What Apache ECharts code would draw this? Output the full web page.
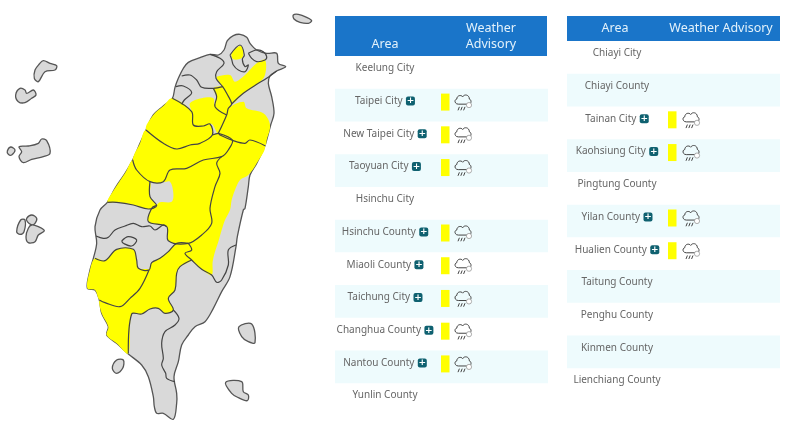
<!DOCTYPE html>
<html>
<head>
<meta charset="utf-8">
<style>html,body{margin:0;padding:0;background:#fff}#chart{width:800px;height:438px}</style>
<script src="https://cdn.jsdelivr.net/npm/echarts@6/dist/echarts.min.js"></script>
</head>
<body>
<div id="chart"></div>
<script>
// table contents
var areasLeft = ['Keelung City', 'Taipei City', 'New Taipei City', 'Taoyuan City', 'Hsinchu City', 'Hsinchu County', 'Miaoli County', 'Taichung City', 'Changhua County', 'Nantou County', 'Yunlin County'];
var advisoryLeft = [0, 1, 1, 1, 0, 1, 1, 1, 1, 1, 0];
var areasRight = ['Chiayi City', 'Chiayi County', 'Tainan City', 'Kaohsiung City', 'Pingtung County', 'Yilan County', 'Hualien County', 'Taitung County', 'Penghu County', 'Kinmen County', 'Lienchiang County'];
var advisoryRight = [0, 0, 1, 1, 0, 1, 1, 0, 0, 0, 0];

// map outlines (units are 1/3 px)
var land = [
  [[322,607],[345,565],[375,520],[398,480],[420,430],[438,390],[460,345],[490,318],[517,295],[525,262],[535,235],[550,205],[565,187],[600,173],[630,163],[655,165],[672,150],[682,122],[700,107],[720,103],[740,112],[750,130],[770,150],[800,160],[830,160],[835,190],[857,200],[830,213],[810,228],[805,250],[815,290],[822,340],[812,375],[800,420],[795,437],[770,490],[750,525],[745,560],[735,625],[730,630],[712,710],[708,740],[690,830],[665,875],[640,925],[615,965],[585,980],[565,1005],[545,1035],[535,1085],[522,1130],[530,1180],[530,1210],[520,1258],[490,1240],[470,1240],[463,1220],[460,1190],[445,1130],[425,1095],[385,1062],[350,1030],[320,1005],[325,980],[305,940],[298,900],[285,870],[262,865],[270,810],[280,775],[290,730],[285,680],[300,630]],
  [[880,45],[895,43],[920,52],[935,62],[925,70],[900,67],[882,57]],
  [[105,210],[118,192],[130,182],[150,190],[170,197],[165,210],[135,215],[115,245],[103,235]],
  [[47,285],[60,265],[75,270],[80,280],[100,270],[108,285],[95,295],[75,308],[55,305]],
  [[57,440],[85,438],[115,430],[125,417],[140,422],[150,460],[130,470],[95,478],[70,488],[57,470],[65,455]],
  [[22,453],[32,441],[45,450],[35,465],[25,463]],
  [[50,695],[62,660],[75,660],[72,695],[60,703]],
  [[80,655],[95,645],[110,655],[105,670],[95,675],[82,665]],
  [[85,685],[95,675],[115,680],[133,692],[115,705],[105,725],[85,728],[78,710]],
  [[337,1105],[350,1080],[370,1080],[368,1105],[350,1120]],
  [[717,980],[755,972],[765,1028],[745,1025],[725,1010]],
  [[677,1147],[725,1145],[730,1175],[745,1185],[742,1202],[715,1193],[695,1180]]
];
var advisoryZones = [
  [[695,160],[722,137],[730,160],[725,175],[700,178]],
  [[650,230],[690,225],[705,245],[735,225],[770,190],[795,180],[795,225],[775,250],[730,280],[695,312],[680,280],[668,260],[650,235]],
  [[640,265],[668,260],[680,280],[695,312],[685,325],[680,345],[665,335],[645,320],[650,290]],
  [[570,310],[605,295],[640,295],[645,320],[680,345],[680,350],[655,400],[635,372],[610,378],[580,375],[575,335]],
  [[685,325],[730,305],[740,325],[790,340],[810,375],[800,420],[795,437],[750,420],[735,430],[700,422],[660,405],[660,385],[680,350]],
  [[517,295],[575,335],[580,375],[610,378],[630,372],[637,405],[600,430],[570,435],[530,447],[490,430],[438,390],[460,345],[490,318]],
  [[438,390],[490,430],[530,447],[570,435],[600,430],[637,405],[655,400],[697,420],[685,450],[665,470],[610,480],[560,505],[510,510],[490,545],[450,545],[410,510],[398,480],[420,430]],
  [[398,480],[410,510],[450,545],[450,590],[470,617],[445,627],[400,615],[350,607],[322,607],[345,565],[375,520]],
  [[510,510],[560,505],[610,480],[665,470],[650,490],[660,520],[645,560],[630,625],[635,670],[605,705],[565,730],[505,722],[500,680],[445,665],[455,625],[468,617],[480,607],[515,605],[520,580],[510,545],[490,545]],
  [[697,420],[735,430],[750,420],[795,437],[770,490],[745,525],[720,540],[705,570],[695,600],[690,630],[675,660],[665,690],[655,725],[645,755],[638,785],[635,825],[605,808],[575,780],[555,760],[575,750],[565,730],[605,705],[635,670],[630,625],[645,560],[660,520],[650,490],[665,470],[685,450]],
  [[285,775],[270,810],[262,865],[285,870],[298,900],[315,908],[360,920],[390,895],[420,865],[447,810],[415,805],[410,780],[400,748],[350,748],[315,782]],
  [[298,900],[315,908],[360,920],[390,895],[420,865],[447,810],[455,788],[480,775],[505,755],[530,730],[565,730],[575,750],[555,760],[575,780],[540,800],[530,820],[525,870],[505,895],[520,930],[495,940],[475,925],[450,927],[425,942],[395,942],[385,1060],[350,1030],[320,1005],[325,980],[305,940]]
];
var borders = [
  [[690,165],[720,135],[733,165],[727,178],[735,200],[745,195],[735,215],[715,210],[700,195],[695,178],[690,165]],
  [[745,160],[770,150],[790,155],[800,170],[795,180],[770,185],[755,175],[745,160]],
  [[630,163],[660,175],[672,190],[650,215],[648,235],[668,260],[680,280],[695,312],[685,325],[680,345],[655,400]],
  [[545,228],[570,225],[590,240],[605,262],[640,265],[668,260]],
  [[640,265],[650,290],[645,320],[680,345]],
  [[528,260],[550,258],[575,278],[553,300],[545,313]],
  [[517,295],[575,335],[580,375],[610,378],[630,372],[637,405],[600,430],[570,435],[530,447],[490,430],[438,390]],
  [[695,312],[730,280],[775,250],[800,235],[830,213]],
  [[637,405],[655,400],[660,405],[700,422],[735,430],[750,420],[795,437]],
  [[655,400],[697,420],[685,450],[665,470],[610,480],[560,505],[510,510],[490,545],[450,545],[410,510],[398,480]],
  [[450,545],[450,590],[470,617],[445,627],[400,615],[350,607],[322,607]],
  [[665,470],[650,490],[660,520],[645,560],[630,625],[635,670],[605,705],[565,730],[505,722],[500,680],[445,665],[455,625],[468,617]],
  [[288,708],[310,715],[325,712],[345,690],[375,678],[400,670],[425,680],[450,678],[465,690],[490,675],[500,680]],
  [[365,723],[385,710],[410,720],[395,738],[370,730],[365,723]],
  [[285,775],[315,782],[350,748],[400,748],[410,780],[415,805],[447,810],[455,788],[480,775],[505,755],[530,730],[565,730]],
  [[447,810],[420,865],[390,895],[360,920],[315,908],[298,900]],
  [[565,730],[575,750],[555,760],[575,780],[605,808],[635,825],[650,847],[665,840],[685,795],[685,750],[708,735]],
  [[575,780],[540,800],[530,820],[525,870],[505,895],[520,930],[495,940],[475,925],[450,927],[425,942],[395,942],[385,1060]],
  [[520,930],[537,955],[525,975],[495,995],[485,1030],[490,1075],[485,1095],[497,1120],[500,1135],[525,1145]]
];

var CLOUD = 'M6 15C1 15 0 9 4 8C4 3 10 2 12 5C14 1 21 2 21 8C24 9 24 14 21 15C16 15 11 15 6 15';
var RAIN = 'M8 17L6 22M12 17L10 22M16 17L14 22';
var SMOOTH = 0.35;

function shapeSeries(list, build) {
  return {
    type: 'custom',
    xAxisIndex: 0,
    yAxisIndex: 0,
    silent: true,
    data: list.map(function(d, i) { return [i]; }),
    renderItem: function(params, api) {
      var pts = list[api.value(0)].map(function(p) { return api.coord(p); });
      return build(pts);
    }
  };
}

function tableSeries(index, names, flags, barX, iconX) {
  return {
    type: 'custom',
    xAxisIndex: index,
    yAxisIndex: index,
    silent: true,
    data: names.map(function(n, i) { return [0, n, flags[i], i]; }),
    renderItem: function(params, api) {
      var i = api.value(3);
      var c = api.coord([0, names[i]]);
      var h = api.size([0, 1])[1];
      var x = c[0], y = c[1];
      var w = 213;
      var kids = [];
      if (i % 2 === 1) {
        kids.push({ type: 'rect', shape: { x: x, y: y - h / 2, width: w, height: h }, style: { fill: '#eefbfd' } });
      }
      var on = flags[i] === 1;
      kids.push({
        type: 'text',
        style: {
          x: x + 50, y: y - 4, align: 'center', verticalAlign: 'middle',
          text: on ? '{a|' + names[i] + '} {p|+}' : '{a|' + names[i] + '}',
          rich: {
            a: { fontFamily: 'Noto Sans', fontSize: 10, fill: '#666' },
            p: { fontFamily: 'DejaVu Sans', fontSize: 9, fontWeight: 'bold', fill: '#fff', backgroundColor: '#0f6170', borderRadius: 2, width: 9, height: 9, lineHeight: 9, align: 'center' }
          }
        }
      });
      if (on) {
        kids.push({ type: 'rect', shape: { x: x + barX, y: y - 11.5, width: 8.5, height: 17 }, style: { fill: '#ffff00' } });
        kids.push({ type: 'path', shape: { pathData: CLOUD, x: x + iconX, y: y - 11, width: 16, height: 11 }, style: { fill: 'none', stroke: '#444', lineWidth: 1 } });
        kids.push({ type: 'path', shape: { pathData: RAIN, x: x + iconX + 3, y: y + 1, width: 7, height: 5 }, style: { fill: 'none', stroke: '#444', lineWidth: 1 } });
        kids.push({ type: 'circle', shape: { cx: x + iconX + 14, cy: y, r: 2.6 }, style: { fill: '#fff', stroke: '#999', lineWidth: 0.8 } });
      }
      return { type: 'group', children: kids };
    }
  };
}

function headerCell(text, cx, cy) {
  return {
    type: 'text', x: cx, y: cy,
    style: { text: text, align: 'center', verticalAlign: 'middle', fill: '#e3f2fb', font: '12.5px "Noto Sans"' }
  };
}

var chart = echarts.init(document.getElementById('chart'));
chart.setOption({
  animation: false,
  backgroundColor: '#fff',
  grid: [
    { left: 0, top: 0, width: 800, height: 438 },
    { left: 335, top: 56, width: 212, height: 360 },
    { left: 567, top: 41, width: 213, height: 360 }
  ],
  xAxis: [
    { type: 'value', gridIndex: 0, min: 0, max: 2400, show: false },
    { type: 'value', gridIndex: 1, min: 0, max: 212, show: false },
    { type: 'value', gridIndex: 2, min: 0, max: 213, show: false }
  ],
  yAxis: [
    { type: 'value', gridIndex: 0, min: 0, max: 1314, inverse: true, show: false },
    { type: 'category', gridIndex: 1, data: areasLeft, inverse: true, show: false },
    { type: 'category', gridIndex: 2, data: areasRight, inverse: true, show: false }
  ],
  graphic: [
    { type: 'rect', shape: { x: 335, y: 16, width: 212, height: 40 }, style: { fill: '#1a75c9' } },
    { type: 'rect', shape: { x: 567, y: 16, width: 213, height: 25 }, style: { fill: '#1a75c9' } },
    headerCell('Area', 385, 44),
    headerCell('Weather', 491, 28),
    headerCell('Advisory', 491, 44),
    headerCell('Area', 615, 28),
    headerCell('Weather Advisory', 721, 28)
  ],
  series: [
    tableSeries(1, areasLeft, advisoryLeft, 106, 120),
    tableSeries(2, areasRight, advisoryRight, 101, 116),
    shapeSeries(land, function(pts) {
      return { type: 'polygon', shape: { points: pts, smooth: SMOOTH }, style: { fill: '#d9d9d9', stroke: '#555', lineWidth: 1.3 } };
    }),
    shapeSeries(advisoryZones, function(pts) {
      return { type: 'polygon', shape: { points: pts, smooth: SMOOTH }, style: { fill: '#ffff00', stroke: 'none' } };
    }),
    shapeSeries(borders, function(pts) {
      return { type: 'polyline', shape: { points: pts, smooth: SMOOTH }, style: { fill: 'none', stroke: '#444', lineWidth: 1.2 } };
    })
  ]
});
</script>
</body>
</html>
